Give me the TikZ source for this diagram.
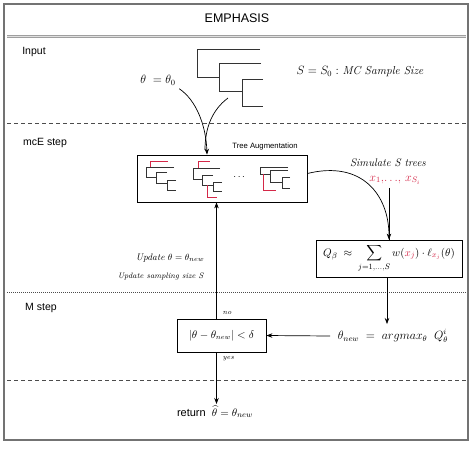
\documentclass[tikz,border=0pt]{standalone}
\usepackage{amsmath}
\usepackage{fontspec}
\setsansfont{Liberation Sans}
\usetikzlibrary{arrows.meta}
\definecolor{redx}{RGB}{212,40,72}
\definecolor{framegray}{RGB}{115,115,115}
\begin{document}
\begin{tikzpicture}[x=1pt,y=-1pt,
  >={Stealth[length=6pt,width=4.5pt]},
  line width=0.7pt,
  seclabel/.style={font=\sffamily\fontsize{10.5}{12}\selectfont},
  mathlbl/.style={font=\fontsize{11.5}{13}\selectfont},
  smalllbl/.style={font=\fontsize{7.5}{9}\selectfont},
  boxstyle/.style={draw, line width=0.8pt, inner sep=0pt},
  sepline/.style={gray!60!black, line width=0.6pt},
  treeline/.style={line width=0.7pt, black!80},
  redline/.style={line width=0.7pt, redx},
  conn/.style={line width=0.7pt}]
\useasboundingbox (0,0) rectangle (474,448);
% frame and separators
\draw[framegray, line width=1.3pt] (4,4) rectangle (468,440);
\draw[gray!75, double=gray!25, double distance=0.7pt, line width=0.8pt] (7,36.5) -- (466,36.5);
\draw[sepline, dash pattern=on 4pt off 3pt] (7,123) -- (466,123);
\draw[sepline, dash pattern=on 0.8pt off 1.2pt] (7,292) -- (466,292);
\draw[sepline, dash pattern=on 4pt off 3pt] (7,380) -- (466,380);
% section labels
\node[font=\sffamily\fontsize{12.5}{14}\selectfont] (title) at (237,18) {EMPHASIS};
\node[seclabel] (input) at (34,52) {Input};
\node[seclabel] (mce) at (45,143) {mcE step};
\node[seclabel] (mstep) at (41,308) {M step};
% input
\node[mathlbl] (theta0) at (158,80) {$\theta\;=\theta_0$};
\node[mathlbl] (ssize) at (360,72) {$S = S_0:$ \textit{MC Sample Size}};
\draw[treeline] (260,49) -- (197,49) -- (197,77) -- (219,77);
\draw[treeline] (261,63) -- (219,63) -- (219,91) -- (242,91);
\draw[treeline] (263,79) -- (242,79) -- (242,106) -- (263,106);
\coordinate (treeout) at (228,98);
% tree augmentation box
\node[boxstyle, minimum width=170pt, minimum height=47pt] (aug) at (222,178.5) {};
\node[font=\sffamily\fontsize{7.7}{9}\selectfont] (auglbl) at (265,147) {Tree Augmentation};
\begin{scope}[shift={(146,167)}]
  \draw[treeline] (28,0) -- (0,0) -- (0,10) -- (10,10);
  \draw[treeline] (21,5) -- (10,5) -- (10,16) -- (21,16);
  \draw[treeline] (30,13) -- (21,13) -- (21,23) -- (30,23);
  \draw[redline] (4,0) -- (4,-6) -- (22,-6);
\end{scope}
\begin{scope}[shift={(193,168)}]
  \draw[treeline] (27,0) -- (0,0) -- (0,11) -- (9,11);
  \draw[treeline] (20,7) -- (9,7) -- (9,17) -- (20,17);
  \draw[treeline] (29,14) -- (20,14) -- (20,23) -- (29,23);
  \draw[redline] (5,0) -- (5,-7) -- (17,-7);
  \draw[redline] (14,17) -- (14,29) -- (24,29);
\end{scope}
\node (dots) at (240,177) {$\cdots$};
\begin{scope}[shift={(260,167)}]
  \draw[treeline] (28,0) -- (0,0) -- (0,7) -- (10,7);
  \draw[treeline] (28,3.5) -- (10,3.5) -- (10,15) -- (22,15);
  \draw[treeline] (30,10) -- (22,10) -- (22,21) -- (30,21);
  \draw[redline] (3,7) -- (3,23) -- (16,23);
\end{scope}
\coordinate (augin) at ([xshift=-15pt]aug.north);
\draw[conn, ->] (theta0.south east) .. controls (196,100) and (206,125) .. (augin);
\draw[conn] (treeout) .. controls (212,110) and (205,128) .. (205,150);
% simulation
\node[font=\itshape\fontsize{11}{13}\selectfont] (sim) at (388,163) {Simulate S trees};
\node[font=\fontsize{12}{14}\selectfont, text=redx] (xs) at (395,180) {$x_1,\!\ldots\!,\, x_{S_i}$};
\node[boxstyle, minimum width=146pt, minimum height=37pt, font=\fontsize{11}{13}\selectfont] (qbox) at (389,258.5)
  {$Q_\beta \;\approx\; \displaystyle\sum_{j=1,\ldots,S} w({\color{redx}x_j})\cdot \ell_{{\color{redx}x_j}}(\theta)$};
\draw[conn, ->] ([yshift=5pt]aug.east) .. controls (362,160) and (389,195) .. (qbox.north);
\draw[conn] (qbox.north |- xs.south) -- (qbox.north);
% feedback
\node[anchor=east, font=\fontsize{9.5}{11}\selectfont] (upd1) at (208,258) {\textit{Update} $\theta = \theta_{new}$};
\node[anchor=east, font=\itshape\fontsize{7.9}{9}\selectfont] (upd2) at (207,277) {Update sampling size S};
% M step
\node[boxstyle, minimum width=89pt, minimum height=33pt, font=\fontsize{10.5}{12}\selectfont] (cond) at (221.5,335.5) {$|\theta-\theta_{new}| < \delta$};
\node[mathlbl] (argmax) at (393,336) {$\theta_{new}\;=\; argmax_\theta\;\; Q^{i}_{\theta}$};
\coordinate (fb) at (216.5,0);
\draw[conn, ->] (cond.north -| fb) -- (aug.south -| fb);
\node[anchor=west, font=\itshape\fontsize{7}{8}\selectfont] (no) at (219,313) {no};
\node[anchor=west, font=\itshape\fontsize{7}{8}\selectfont] (yes) at (219,359) {yes};
\draw[conn, ->] (qbox.south -| 387,0) -- (387,324);
\draw[conn, ->] ([xshift=-4pt]argmax.west) -- (cond.east);
% return
\node[anchor=north, inner sep=1pt] (ret) at (215,404) {\sffamily\fontsize{11}{13}\selectfont return\ \ $\widehat{\theta} = \theta_{new}$};
\draw[conn, ->] (cond.south -| fb) -- (ret.north -| fb);
\end{tikzpicture}
\end{document}
